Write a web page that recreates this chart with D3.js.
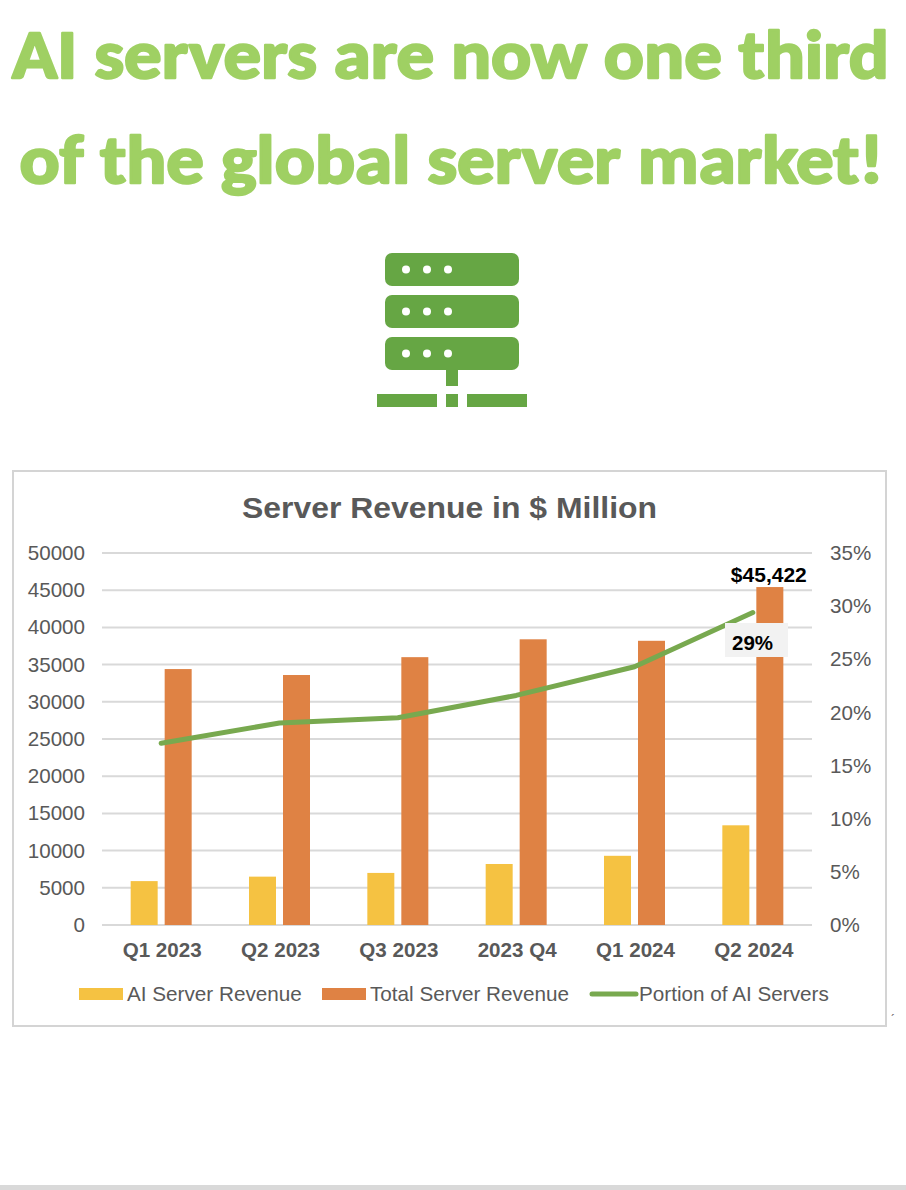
<!DOCTYPE html>
<html><head><meta charset="utf-8">
<script src="https://cdn.jsdelivr.net/npm/d3@7"></script>
<style>
html,body{margin:0;padding:0;background:#fff;overflow:hidden}
svg{display:block}
text{font-family:"Liberation Sans",Arial,sans-serif}
</style></head><body>
<svg id="c" width="906" height="1190"></svg>
<script>
const headlineLines = ["AI servers are now one third","of the global server market!"];
const chartTitle = "Server Revenue in $ Million";
const categories = ["Q1 2023","Q2 2023","Q3 2023","2023 Q4","Q1 2024","Q2 2024"];
const aiRevenue = [5900,6500,7000,8200,9300,13400];
const totalRevenue = [34400,33600,36000,38400,38200,45422];
const aiPortion = [0.171,0.19,0.195,0.216,0.243,0.294];
const leftTicks = [0,5000,10000,15000,20000,25000,30000,35000,40000,45000,50000];
const rightTicks = [0,0.05,0.10,0.15,0.20,0.25,0.30,0.35];
const legendLabels = ["AI Server Revenue","Total Server Revenue","Portion of AI Servers"];

const svg = d3.select("#c");
const C = {ai:"#F5C242",total:"#DF8244",line:"#78A94F",grid:"#D9D9D9",axis:"#595959",head:"#9FD063",icon:"#66A644"};

// headline
svg.selectAll("text.head").data(headlineLines).join("text").attr("class","head")
  .attr("x",(d,i)=>i?451.5:450.5).attr("y",(d,i)=>i?183:78).attr("text-anchor","middle")
  .attr("textLength",(d,i)=>i?864:877).attr("lengthAdjust","spacingAndGlyphs")
  .style("font-family","Carlito,Lato,sans-serif").style("font-weight",700).style("font-size","69px")
  .attr("fill",C.head).attr("stroke",C.head).attr("stroke-width",2.4).attr("stroke-linejoin","round").text(d=>d);

// server icon
const icon = svg.append("g").attr("fill",C.icon);
[253,295,337].forEach(y=>{
  icon.append("rect").attr("x",385).attr("y",y).attr("width",134).attr("height",33).attr("rx",7);
  [406,427,448].forEach(x=>icon.append("circle").attr("cx",x).attr("cy",y+16.5).attr("r",4).attr("fill","#fff"));
});
icon.append("rect").attr("x",446).attr("y",370).attr("width",12).attr("height",16);
icon.append("rect").attr("x",377).attr("y",394).attr("width",60).attr("height",13);
icon.append("rect").attr("x",446).attr("y",394).attr("width",12).attr("height",13);
icon.append("rect").attr("x",467).attr("y",394).attr("width",60).attr("height",13);

// chart frame
svg.append("rect").attr("x",13).attr("y",471).attr("width",873).attr("height",555)
  .attr("fill","#fff").attr("stroke","#D4D4D4").attr("stroke-width",2);
svg.append("text").attr("x",449.5).attr("y",518).attr("text-anchor","middle")
  .attr("textLength",415).attr("lengthAdjust","spacingAndGlyphs")
  .attr("fill",C.axis).style("font-size","30px").style("font-weight",700).text(chartTitle);

// scales
const x = d3.scaleBand().domain(categories).range([102,812]);
const yL = d3.scaleLinear().domain([0,50000]).range([925,553]);
const yR = d3.scaleLinear().domain([0,0.35]).range([925,553]);

// gridlines
svg.append("g").selectAll("line").data(leftTicks).join("line")
  .attr("x1",102).attr("x2",812).attr("y1",d=>yL(d)).attr("y2",d=>yL(d))
  .attr("stroke",C.grid).attr("stroke-width",2);

// axes
const axL = svg.append("g").attr("transform","translate(102,0)")
  .call(d3.axisLeft(yL).tickValues(leftTicks).tickSize(0).tickPadding(17).tickFormat(d3.format("d")));
const axR = svg.append("g").attr("transform","translate(812,0)")
  .call(d3.axisRight(yR).tickValues(rightTicks).tickSize(0).tickPadding(18).tickFormat(d3.format(".0%")));
const axB = svg.append("g").attr("transform","translate(1,925)")
  .call(d3.axisBottom(x).tickSize(0).tickPadding(17));
[axL,axR,axB].forEach(a=>{a.select(".domain").remove();
  a.selectAll("text").attr("fill",C.axis).style("font-size","20.6px");});
axB.selectAll("text").style("font-weight",700);

// bars
const bw = 27, gap = 7;
const cx = d => x(d)+x.bandwidth()/2;
svg.append("g").selectAll("rect").data(categories).join("rect")
  .attr("x",d=>cx(d)-gap/2-bw).attr("width",bw)
  .attr("y",(d,i)=>yL(aiRevenue[i])).attr("height",(d,i)=>925-yL(aiRevenue[i])).attr("fill",C.ai);
svg.append("g").selectAll("rect").data(categories).join("rect")
  .attr("x",d=>cx(d)+gap/2).attr("width",bw)
  .attr("y",(d,i)=>yL(totalRevenue[i])).attr("height",(d,i)=>925-yL(totalRevenue[i])).attr("fill",C.total);

// line
const line = d3.line().x(d=>cx(d[0])).y(d=>yR(d[1]));
svg.append("path").datum(categories.map((c,i)=>[c,aiPortion[i]]))
  .attr("d",line).attr("fill","none").attr("stroke",C.line).attr("stroke-width",5).attr("stroke-linecap","round").attr("stroke-linejoin","round");

// data labels
const lastCat = categories[categories.length-1];
svg.append("text").attr("x",cx(lastCat)+16).attr("y",yL(45422)-5).attr("text-anchor","middle")
  .attr("fill","#000").style("font-size","21px").style("font-weight",700).text("$"+d3.format(",")(45422));
svg.append("rect").attr("x",725).attr("y",623).attr("width",63).attr("height",34).attr("fill","#F2F2F2");
svg.append("text").attr("x",752.5).attr("y",650).attr("text-anchor","middle")
  .attr("fill","#000").style("font-size","20.5px").style("font-weight",700).text(d3.format(".0%")(0.29));

// legend
const lg = svg.append("g");
const lgText = [127,370,639], lgY = 1001;
lg.append("rect").attr("x",79).attr("y",988).attr("width",44).attr("height",12).attr("fill",C.ai);
lg.append("rect").attr("x",322).attr("y",988).attr("width",44).attr("height",12).attr("fill",C.total);
lg.append("line").attr("x1",592).attr("x2",636).attr("y1",994).attr("y2",994)
  .attr("stroke",C.line).attr("stroke-width",5).attr("stroke-linecap","round");
lg.selectAll("text").data(legendLabels).join("text")
  .attr("x",(d,i)=>lgText[i]).attr("y",lgY).attr("fill",C.axis).style("font-size","20.7px").text(d=>d);

// bottom edge of the page and stray mark
svg.append("rect").attr("x",0).attr("y",1185).attr("width",906).attr("height",5).attr("fill","#D9D9D9");
svg.append("text").attr("x",891).attr("y",1024).attr("fill","#595959").style("font-size","12px").text("´");
</script>
</body></html>
